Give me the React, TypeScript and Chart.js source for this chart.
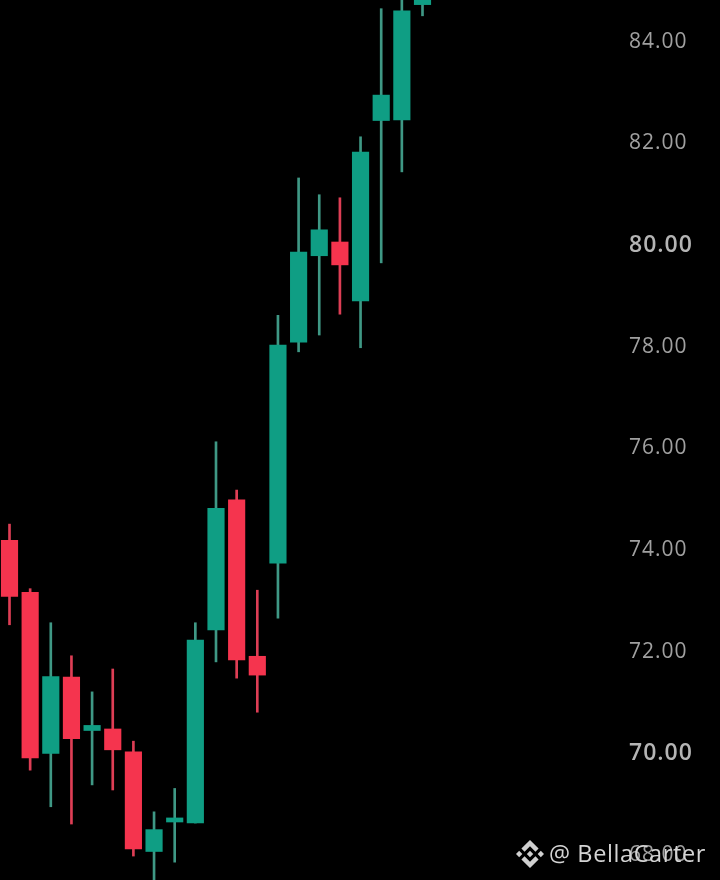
import React, { useEffect, useRef } from "react";
import { Chart, registerables } from "chart.js";

Chart.register(...registerables);

const opens = [74.14, 73.12, 69.95, 71.45, 70.4, 70.43, 69.98, 68.02, 68.6, 68.58, 72.38, 74.94, 71.86, 73.69, 78.04, 79.74, 80.01, 78.85, 82.4, 82.41, 84.68];
const closes = [73.04, 69.86, 71.46, 70.24, 70.5, 70.02, 68.07, 68.45, 68.68, 72.18, 74.77, 71.79, 71.49, 77.98, 79.81, 80.25, 79.56, 81.78, 82.9, 84.56, 84.9];
const highs = [74.46, 73.19, 72.52, 71.87, 71.16, 71.61, 70.19, 68.8, 69.26, 72.52, 76.08, 75.13, 73.16, 78.57, 81.27, 80.94, 80.88, 82.08, 84.6, 84.95, 85.0];
const lows = [72.48, 69.62, 68.9, 68.56, 69.33, 69.23, 67.93, 67.3, 67.81, 68.58, 71.75, 71.43, 70.76, 72.61, 77.85, 78.18, 78.59, 77.93, 79.6, 81.39, 84.46];
const boldTicks = [70, 80];

const UP = "#0F9E84";
const DOWN = "#F5344E";
const UP_WICK = "#3F9885";
const DOWN_WICK = "#DE3E55";

const letterSpacingPlugin = {
  id: "tickLetterSpacing",
  beforeDraw(chart: any) {
    chart.ctx.letterSpacing = "1px";
  },
};

export default function App() {
  const ref = useRef<HTMLCanvasElement | null>(null);

  useEffect(() => {
    if (!ref.current) return;
    const isUp = opens.map((o, i) => closes[i] >= o);
    const chart = new Chart(ref.current, {
      type: "bar",
      plugins: [letterSpacingPlugin],
      data: {
        datasets: [
          {
            label: "Body",
            data: opens.map((o, i) => ({ x: i, y: [o, closes[i]] })) as any,
            backgroundColor: isUp.map((u) => (u ? UP : DOWN)),
            barThickness: 16.5,
            grouped: false,
            order: 1,
          },
          {
            label: "Wick",
            data: lows.map((l, i) => ({ x: i, y: [l, highs[i]] })) as any,
            backgroundColor: isUp.map((u) => (u ? UP_WICK : DOWN_WICK)),
            barThickness: 2,
            grouped: false,
            order: 2,
          },
        ],
      },
      options: {
        animation: false,
        responsive: false,
        layout: { padding: 0 },
        plugins: { legend: { display: false }, tooltip: { enabled: false } },
        scales: {
          x: {
            type: "linear",
            display: false,
            min: -0.46,
            max: 30,
            offset: false,
            grid: { display: false },
          },
          y: {
            position: "right",
            min: 67.459,
            max: 84.771,
            grid: { display: false, drawTicks: false },
            border: { display: false },
            afterFit: (s: any) => {
              s.width = 91;
              s.paddingTop = 0;
              s.paddingBottom = 0;
            },
            ticks: {
              stepSize: 2,
              includeBounds: false,
              padding: 0,
              labelOffset: 2.5,
              autoSkip: false,
              maxRotation: 0,
              color: (c: any) => (boldTicks.includes(c.tick?.value) ? "#B4B4B4" : "#A0A0A0"),
              font: (c: any) => ({
                family: '"Open Sans"',
                size: boldTicks.includes(c.tick?.value) ? 23 : 21,
                weight: boldTicks.includes(c.tick?.value) ? 600 : "normal",
              }),
              callback: (v: any) => Number(v).toFixed(2),
            },
          },
        },
      },
    });
    return () => chart.destroy();
  }, []);

  return (
    <div style={{ position: "fixed", left: 0, top: 0, width: 720, height: 880, background: "#000", overflow: "hidden" }}>
      <canvas ref={ref} width={720} height={880} style={{ display: "block", width: 720, height: 880 }} />
      <svg width="28" height="28" viewBox="0 0 126.61 126.61" style={{ position: "absolute", left: 516, top: 840 }}>
        <g fill="#D0D0D0">
          <path d="M38.73 53.2l24.59-24.58 24.6 24.6 14.3-14.31L63.32 0 24.42 38.9z" />
          <path d="M0 63.31l14.3-14.31 14.31 14.31-14.31 14.3z" />
          <path d="M38.73 73.41l24.59 24.59 24.6-24.6 14.31 14.29-38.9 38.91-38.91-38.88-.02-.02z" />
          <path d="M98 63.31l14.3-14.31 14.31 14.31-14.31 14.3z" />
          <path d="M77.83 63.3L63.32 48.78 52.59 59.51l-1.24 1.23-2.54 2.54 14.51 14.5 14.51-14.52z" />
        </g>
      </svg>
      <div
        style={{
          position: "absolute",
          left: 549,
          top: 837,
          color: "#D4D4D4",
          font: '23.5px "Open Sans", sans-serif',
          letterSpacing: "0.6px",
          whiteSpace: "nowrap",
          lineHeight: "32px",
        }}
      >
        @ BellaCarter
      </div>
    </div>
  );
}
